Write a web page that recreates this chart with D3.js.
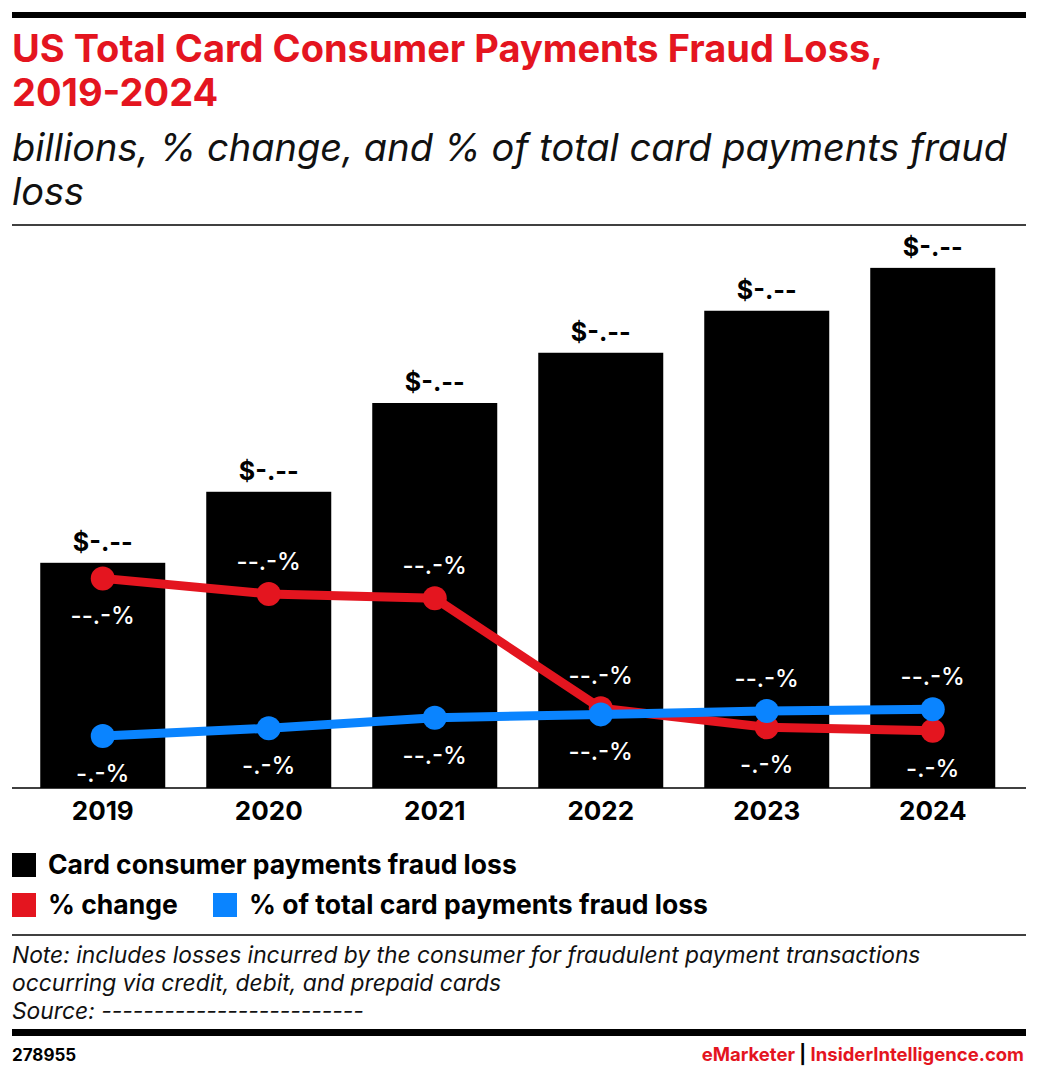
<!DOCTYPE html>
<html><head><meta charset="utf-8">
<script src="https://cdn.jsdelivr.net/npm/d3@7"></script>
<style>body{margin:0;background:#fff;font-family:Inter,"Noto Sans",sans-serif}</style>
</head><body><div id="wrapper"></div>
<script>
// chart data (values hidden in the source, heights estimated)
const years = ["2019", "2020", "2021", "2022", "2023", "2024"]
const fraudLoss = [5.20, 6.84, 8.89, 10.05, 11.02, 12.01]
const fraudLabels = ["$-.--", "$-.--", "$-.--", "$-.--", "$-.--", "$-.--"]
const pctChange = [24.2, 22.4, 21.9, 9.2, 7.0, 6.6]
const pctChangeLabels = ["--.-%", "--.-%", "--.-%", "--.-%", "-.-%", "-.-%"]
const pctChangeAbove = [false, true, true, true, false, false]
const pctTotal = [6.0, 6.9, 8.1, 8.5, 8.9, 9.1]
const pctTotalLabels = ["-.-%", "-.-%", "--.-%", "--.-%", "--.-%", "--.-%"]
const pctTotalAbove = [false, false, false, false, true, true]

const width = 1038, height = 1079
const svg = d3.select("#wrapper").append("svg").attr("width", width).attr("height", height)

// header
svg.append("rect").attr("x", 12).attr("y", 12).attr("width", 1014).attr("height", 6).attr("fill", "#000")
const title = svg.append("text").attr("fill", "#e4151f").attr("font-weight", 700).attr("font-size", 38)
title.append("tspan").attr("x", 12).attr("y", 62).text("US Total Card Consumer Payments Fraud Loss,")
title.append("tspan").attr("x", 12).attr("y", 106).text("2019-2024")
const sub = svg.append("text").attr("font-style", "italic").attr("font-size", 38).attr("fill", "#111")
sub.append("tspan").attr("x", 12).attr("y", 161).text("billions, % change, and % of total card payments fraud")
sub.append("tspan").attr("x", 12).attr("y", 205).text("loss")
svg.append("line").attr("x1", 12).attr("x2", 1026).attr("y1", 225).attr("y2", 225).attr("stroke", "#000").attr("stroke-width", 1.5)

// scales
const baseY = 788
const x = d3.scaleBand().domain(years).range([19.5, 1016]).paddingInner(0.247).paddingOuter(0.125)
const yBar = d3.scaleLinear().domain([0, 13]).range([baseY, 225])
const yPct = d3.scaleLinear().domain([0, 65]).range([baseY, 225])
const cx = d => x(d) + x.bandwidth() / 2

svg.selectAll(".bar").data(years).join("rect")
    .attr("x", d => x(d)).attr("width", x.bandwidth())
    .attr("y", (d, i) => yBar(fraudLoss[i])).attr("height", (d, i) => baseY - yBar(fraudLoss[i]))
    .attr("fill", "#000")
svg.selectAll(".barlab").data(years).join("text")
    .attr("x", cx).attr("y", (d, i) => yBar(fraudLoss[i]) - 12)
    .attr("text-anchor", "middle").attr("font-weight", 700).attr("font-size", 25).text((d, i) => fraudLabels[i])

svg.append("line").attr("x1", 12).attr("x2", 1026).attr("y1", baseY).attr("y2", baseY).attr("stroke", "#000").attr("stroke-width", 1.5)
const xAxis = svg.append("g").attr("transform", `translate(0,${baseY})`)
    .call(d3.axisBottom(x).tickSize(0).tickPadding(14))
xAxis.select(".domain").remove()
xAxis.selectAll("text").attr("font-size", 26).attr("font-weight", 700).attr("fill", "#000").attr("font-family", "Inter, sans-serif")

function series(vals, color, labels, above) {
    const line = d3.line().x((d, i) => cx(years[i])).y(d => yPct(d))
    svg.append("path").attr("d", line(vals)).attr("fill", "none").attr("stroke", color).attr("stroke-width", 9)
    svg.append("g").selectAll("circle").data(vals).join("circle")
        .attr("cx", (d, i) => cx(years[i])).attr("cy", d => yPct(d)).attr("r", 12).attr("fill", color)
    return () => svg.append("g").selectAll("text").data(vals).join("text")
        .attr("x", (d, i) => cx(years[i])).attr("y", (d, i) => yPct(d) + (above[i] ? -24 : 46))
        .attr("text-anchor", "middle").attr("fill", "#fff").attr("font-size", 24).attr("font-weight", 500)
        .text((d, i) => labels[i])
}
const redLabels = series(pctChange, "#e4151f", pctChangeLabels, pctChangeAbove)
const blueLabels = series(pctTotal, "#0a84ff", pctTotalLabels, pctTotalAbove)
redLabels(); blueLabels()

// legend
const legend = [
    {c: "#000", t: "Card consumer payments fraud loss", x: 12, y: 853},
    {c: "#e4151f", t: "% change", x: 12, y: 893},
    {c: "#0a84ff", t: "% of total card payments fraud loss", x: 213, y: 893}]
legend.forEach(l => {
    svg.append("rect").attr("x", l.x).attr("y", l.y).attr("width", 24).attr("height", 24).attr("fill", l.c)
    svg.append("text").attr("x", l.x + 36).attr("y", l.y + 21).attr("font-size", 26.5).attr("font-weight", 700).text(l.t)
})

// notes & footer
svg.append("line").attr("x1", 12).attr("x2", 1026).attr("y1", 935).attr("y2", 935).attr("stroke", "#000").attr("stroke-width", 1.5)
const note = svg.append("text").attr("font-style", "italic").attr("font-size", 22.8).attr("fill", "#111")
;["Note: includes losses incurred by the consumer for fraudulent payment transactions",
  "occurring via credit, debit, and prepaid cards",
  "Source: -------------------------"].forEach((t, i) =>
    note.append("tspan").attr("x", 12).attr("y", 963 + i * 28).text(t))
svg.append("rect").attr("x", 12).attr("y", 1029).attr("width", 1014).attr("height", 7).attr("fill", "#000")
svg.append("text").attr("x", 12).attr("y", 1061).attr("font-size", 17).attr("font-weight", 700).text("278955")
const foot = svg.append("text").attr("x", 1024).attr("y", 1061).attr("text-anchor", "end").attr("font-size", 18.5).attr("font-weight", 700)
foot.append("tspan").attr("fill", "#e4151f").text("eMarketer")
foot.append("tspan").attr("fill", "#000").text("  |  ")
foot.append("tspan").attr("fill", "#e4151f").text("InsiderIntelligence.com")
</script></body></html>
